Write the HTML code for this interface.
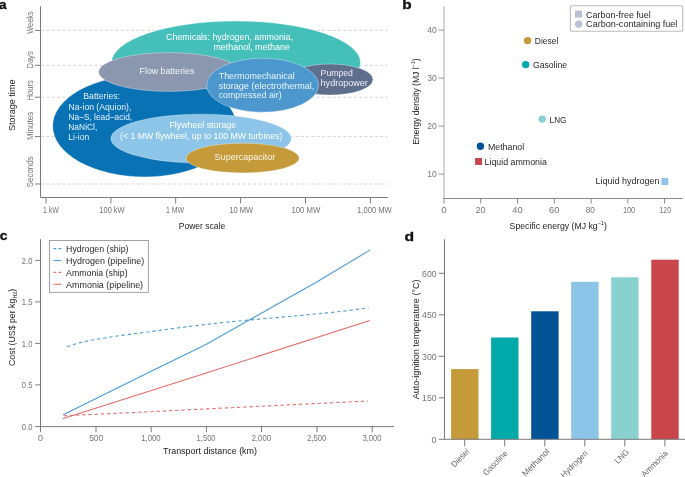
<!DOCTYPE html>
<html lang="en"><head><meta charset="utf-8"><title>Energy storage and fuels figure</title>
<style>html,body{margin:0;padding:0;background:#fff}svg{display:block}text{font-family:"Liberation Sans",sans-serif}</style>
</head><body>
<svg width="685" height="477" viewBox="0 0 685 477">
<rect width="685" height="477" fill="#fff"/>
<g id="panel-a">
<text x="-0.9" y="9.0" font-size="12.2" fill="#111" textLength="7.5" lengthAdjust="spacingAndGlyphs" font-weight="bold" stroke="#111" stroke-width="0.35">a</text>
<line x1="41" y1="30.4" x2="387.7" y2="30.4" stroke="#c9c9c9" stroke-width="0.8" stroke-dasharray="3.2 2.1"/>
<line x1="41" y1="65.3" x2="387.7" y2="65.3" stroke="#c9c9c9" stroke-width="0.8" stroke-dasharray="3.2 2.1"/>
<line x1="41" y1="97.2" x2="387.7" y2="97.2" stroke="#c9c9c9" stroke-width="0.8" stroke-dasharray="3.2 2.1"/>
<line x1="41" y1="136.6" x2="387.7" y2="136.6" stroke="#c9c9c9" stroke-width="0.8" stroke-dasharray="3.2 2.1"/>
<line x1="41" y1="184.0" x2="387.7" y2="184.0" stroke="#c9c9c9" stroke-width="0.8" stroke-dasharray="3.2 2.1"/>
<ellipse cx="236" cy="62.6" rx="124.4" ry="41.6" fill="#45bfba" stroke="#fff" stroke-opacity="0.7" stroke-width="0.5"/>
<ellipse cx="144.5" cy="126" rx="91.8" ry="50.9" fill="#0872b5" stroke="#fff" stroke-opacity="0.7" stroke-width="0.5"/>
<ellipse cx="169" cy="72" rx="70.4" ry="19.4" fill="#8b97af" stroke="#fff" stroke-opacity="0.7" stroke-width="0.5"/>
<ellipse cx="330" cy="79.5" rx="43" ry="15.5" fill="#5e6e8d" stroke="#fff" stroke-opacity="0.7" stroke-width="0.5"/>
<ellipse cx="262.5" cy="85.2" rx="56" ry="27" fill="#4c97ce" stroke="#fff" stroke-opacity="0.7" stroke-width="0.5"/>
<ellipse cx="201.1" cy="138.6" rx="90.2" ry="24.4" fill="#8cc5e8" stroke="#fff" stroke-opacity="0.7" stroke-width="0.5"/>
<ellipse cx="242.6" cy="158.1" rx="56.6" ry="14.9" fill="#c49a3a" stroke="#fff" stroke-opacity="0.7" stroke-width="0.5"/>
<path d="M40.5 6.2V197.5H387.7" fill="none" stroke="#7a7a7a" stroke-width="1"/>
<line x1="35" y1="30.4" x2="40.5" y2="30.4" stroke="#7a7a7a" stroke-width="1"/>
<text transform="translate(32.6 33.7) rotate(-90)" font-size="8.5" fill="#757575" textLength="22.3" lengthAdjust="spacingAndGlyphs">Weeks</text>
<line x1="35" y1="65.3" x2="40.5" y2="65.3" stroke="#7a7a7a" stroke-width="1"/>
<text transform="translate(32.6 68.6) rotate(-90)" font-size="8.5" fill="#757575" textLength="17.3" lengthAdjust="spacingAndGlyphs">Days</text>
<line x1="35" y1="97.2" x2="40.5" y2="97.2" stroke="#7a7a7a" stroke-width="1"/>
<text transform="translate(32.6 100.5) rotate(-90)" font-size="8.5" fill="#757575" textLength="20.3" lengthAdjust="spacingAndGlyphs">Hours</text>
<line x1="35" y1="136.6" x2="40.5" y2="136.6" stroke="#7a7a7a" stroke-width="1"/>
<text transform="translate(32.6 139.9) rotate(-90)" font-size="8.5" fill="#757575" textLength="28.1" lengthAdjust="spacingAndGlyphs">Minutes</text>
<line x1="35" y1="184.0" x2="40.5" y2="184.0" stroke="#7a7a7a" stroke-width="1"/>
<text transform="translate(32.6 187.3) rotate(-90)" font-size="8.5" fill="#757575" textLength="31.0" lengthAdjust="spacingAndGlyphs">Seconds</text>
<text transform="translate(15.0 131.0) rotate(-90)" font-size="9" fill="#222" textLength="51.5" lengthAdjust="spacingAndGlyphs">Storage time</text>
<line x1="46.0" y1="197.5" x2="46.0" y2="203.5" stroke="#7a7a7a" stroke-width="1"/>
<text x="42.9" y="212.6" font-size="8.5" fill="#757575" textLength="16.0" lengthAdjust="spacingAndGlyphs">1 kW</text>
<line x1="110.9" y1="197.5" x2="110.9" y2="203.5" stroke="#7a7a7a" stroke-width="1"/>
<text x="99.3" y="212.6" font-size="8.5" fill="#757575" textLength="25.4" lengthAdjust="spacingAndGlyphs">100 kW</text>
<line x1="175.7" y1="197.5" x2="175.7" y2="203.5" stroke="#7a7a7a" stroke-width="1"/>
<text x="165.9" y="212.6" font-size="8.5" fill="#757575" textLength="18.2" lengthAdjust="spacingAndGlyphs">1 MW</text>
<line x1="240.6" y1="197.5" x2="240.6" y2="203.5" stroke="#7a7a7a" stroke-width="1"/>
<text x="229.2" y="212.6" font-size="8.5" fill="#757575" textLength="23.9" lengthAdjust="spacingAndGlyphs">10 MW</text>
<line x1="305.5" y1="197.5" x2="305.5" y2="203.5" stroke="#7a7a7a" stroke-width="1"/>
<text x="291.4" y="212.6" font-size="8.5" fill="#757575" textLength="28.9" lengthAdjust="spacingAndGlyphs">100 MW</text>
<line x1="370.4" y1="197.5" x2="370.4" y2="203.5" stroke="#7a7a7a" stroke-width="1"/>
<text x="357.1" y="212.6" font-size="8.5" fill="#757575" textLength="34.7" lengthAdjust="spacingAndGlyphs">1,000 MW</text>
<text x="178.8" y="228.5" font-size="9" fill="#222" textLength="46.4" lengthAdjust="spacingAndGlyphs">Power scale</text>
<text x="166.1" y="40.1" font-size="9" fill="#ffffff" textLength="127.1" lengthAdjust="spacingAndGlyphs">Chemicals: hydrogen, ammonia,</text>
<text x="213.4" y="50.0" font-size="9" fill="#ffffff" textLength="76.5" lengthAdjust="spacingAndGlyphs">methanol, methane</text>
<text x="139.6" y="74.2" font-size="9" fill="#f3f4f7" textLength="54.7" lengthAdjust="spacingAndGlyphs">Flow batteries</text>
<text x="218.7" y="79.0" font-size="9" fill="#eaf3fa" textLength="76.0" lengthAdjust="spacingAndGlyphs">Thermomechanical</text>
<text x="218.7" y="88.8" font-size="9" fill="#eaf3fa" textLength="95.7" lengthAdjust="spacingAndGlyphs">storage (electrothermal,</text>
<text x="218.7" y="98.4" font-size="9" fill="#eaf3fa" textLength="62.9" lengthAdjust="spacingAndGlyphs">compressed air)</text>
<text x="320.6" y="75.8" font-size="9" fill="#eef0f4" textLength="32.3" lengthAdjust="spacingAndGlyphs">Pumped</text>
<text x="320.6" y="86.2" font-size="9" fill="#eef0f4" textLength="47.2" lengthAdjust="spacingAndGlyphs">hydropower</text>
<text x="83.3" y="99.4" font-size="9" fill="#e6f1f8" textLength="36.7" lengthAdjust="spacingAndGlyphs">Batteries:</text>
<text x="68.6" y="109.9" font-size="9" fill="#e6f1f8" textLength="62.7" lengthAdjust="spacingAndGlyphs">Na-ion (Aquion),</text>
<text x="68.6" y="119.9" font-size="9" fill="#e6f1f8" textLength="63.6" lengthAdjust="spacingAndGlyphs">Na–S, lead–acid,</text>
<text x="68.3" y="130.0" font-size="9" fill="#e6f1f8" textLength="29.0" lengthAdjust="spacingAndGlyphs">NaNiCl,</text>
<text x="68.3" y="139.6" font-size="9" fill="#e6f1f8" textLength="20.9" lengthAdjust="spacingAndGlyphs">Li-ion</text>
<text x="169.4" y="128.1" font-size="9" fill="#ffffff" textLength="66.8" lengthAdjust="spacingAndGlyphs">Flywheel storage</text>
<text x="120.0" y="139.0" font-size="9" fill="#ffffff" textLength="162.3" lengthAdjust="spacingAndGlyphs">(&lt; 1 MW flywheel, up to 100 MW turbines)</text>
<text x="214.6" y="160.0" font-size="9" fill="#fbf6ea" textLength="60.7" lengthAdjust="spacingAndGlyphs">Supercapacitor</text>
</g>
<g id="panel-b">
<text x="402.3" y="9.0" font-size="13" fill="#111" textLength="9.4" lengthAdjust="spacingAndGlyphs" font-weight="bold" stroke="#111" stroke-width="0.3">b</text>
<line x1="444" y1="6.2" x2="444" y2="198.5" stroke="#bdbdbd" stroke-width="1.3"/>
<line x1="443.4" y1="198.5" x2="683" y2="198.5" stroke="#8a8a8a" stroke-width="1"/>
<line x1="438.5" y1="30.1" x2="444" y2="30.1" stroke="#9a9a9a" stroke-width="1"/>
<text x="427.2" y="33.1" font-size="8.5" fill="#757575" textLength="9.5" lengthAdjust="spacingAndGlyphs">40</text>
<line x1="438.5" y1="78.1" x2="444" y2="78.1" stroke="#9a9a9a" stroke-width="1"/>
<text x="427.2" y="81.1" font-size="8.5" fill="#757575" textLength="9.5" lengthAdjust="spacingAndGlyphs">30</text>
<line x1="438.5" y1="126.1" x2="444" y2="126.1" stroke="#9a9a9a" stroke-width="1"/>
<text x="427.2" y="129.1" font-size="8.5" fill="#757575" textLength="9.5" lengthAdjust="spacingAndGlyphs">20</text>
<line x1="438.5" y1="174.1" x2="444" y2="174.1" stroke="#9a9a9a" stroke-width="1"/>
<text x="427.2" y="177.1" font-size="8.5" fill="#757575" textLength="9.5" lengthAdjust="spacingAndGlyphs">10</text>
<text transform="translate(418.8 144.7) rotate(-90)" font-size="9" fill="#222" textLength="86.2" lengthAdjust="spacingAndGlyphs">Energy density (MJ l<tspan font-size="5.6" dy="-3.4">−1</tspan><tspan dy="3.4">)</tspan></text>
<line x1="444.0" y1="198.5" x2="444.0" y2="203.6" stroke="#8a8a8a" stroke-width="1"/>
<text x="441.3" y="212.6" font-size="8.5" fill="#757575" textLength="5.4" lengthAdjust="spacingAndGlyphs">0</text>
<line x1="480.7" y1="198.5" x2="480.7" y2="203.6" stroke="#8a8a8a" stroke-width="1"/>
<text x="475.5" y="212.6" font-size="8.5" fill="#757575" textLength="10.1" lengthAdjust="spacingAndGlyphs">20</text>
<line x1="517.5" y1="198.5" x2="517.5" y2="203.6" stroke="#8a8a8a" stroke-width="1"/>
<text x="512.3" y="212.6" font-size="8.5" fill="#757575" textLength="10.3" lengthAdjust="spacingAndGlyphs">40</text>
<line x1="554.3" y1="198.5" x2="554.3" y2="203.6" stroke="#8a8a8a" stroke-width="1"/>
<text x="549.1" y="212.6" font-size="8.5" fill="#757575" textLength="10.3" lengthAdjust="spacingAndGlyphs">60</text>
<line x1="591.1" y1="198.5" x2="591.1" y2="203.6" stroke="#8a8a8a" stroke-width="1"/>
<text x="585.7" y="212.6" font-size="8.5" fill="#757575" textLength="9.3" lengthAdjust="spacingAndGlyphs">80</text>
<line x1="627.9" y1="198.5" x2="627.9" y2="203.6" stroke="#8a8a8a" stroke-width="1"/>
<text x="622.9" y="212.6" font-size="8.5" fill="#757575" textLength="12.3" lengthAdjust="spacingAndGlyphs">100</text>
<line x1="664.5" y1="198.5" x2="664.5" y2="203.6" stroke="#8a8a8a" stroke-width="1"/>
<text x="659.6" y="212.6" font-size="8.5" fill="#757575" textLength="11.3" lengthAdjust="spacingAndGlyphs">120</text>
<text x="509.6" y="228.7" font-size="9" fill="#222" textLength="97.2" lengthAdjust="spacingAndGlyphs">Specific energy (MJ kg<tspan font-size="5.6" dy="-3.4">−1</tspan><tspan dy="3.4">)</tspan></text>
<rect x="570.4" y="5.7" width="112.3" height="25.6" rx="1.2" fill="#fff" stroke="#bdbdbd" stroke-width="1.1"/>
<rect x="575" y="10.6" width="7" height="7" fill="#b9c0d2"/>
<circle cx="578.6" cy="24.1" r="3.7" fill="#b9c0d2"/>
<text x="586.1" y="17.5" font-size="9" fill="#2a2a2a" textLength="64.7" lengthAdjust="spacingAndGlyphs">Carbon-free fuel</text>
<text x="586.1" y="27.0" font-size="9" fill="#2a2a2a" textLength="91.3" lengthAdjust="spacingAndGlyphs">Carbon-containing fuel</text>
<circle cx="527.6" cy="40.6" r="3.7" fill="#c49a3a"/>
<text x="534.8" y="44.0" font-size="9" fill="#2a2a2a" textLength="23.5" lengthAdjust="spacingAndGlyphs">Diesel</text>
<circle cx="525.7" cy="64.6" r="3.7" fill="#00a9a9"/>
<text x="532.9" y="67.5" font-size="9" fill="#2a2a2a" textLength="34.2" lengthAdjust="spacingAndGlyphs">Gasoline</text>
<circle cx="542.2" cy="119.1" r="3.7" fill="#88d1cf"/>
<text x="549.6" y="122.7" font-size="9" fill="#2a2a2a" textLength="16.8" lengthAdjust="spacingAndGlyphs">LNG</text>
<circle cx="480.4" cy="146.3" r="3.7" fill="#025396"/>
<text x="487.9" y="149.6" font-size="9" fill="#2a2a2a" textLength="36.3" lengthAdjust="spacingAndGlyphs">Methanol</text>
<rect x="475.1" y="158" width="6.9" height="6.9" fill="#c8464a"/>
<text x="484.5" y="164.6" font-size="9" fill="#2a2a2a" textLength="62.4" lengthAdjust="spacingAndGlyphs">Liquid ammonia</text>
<rect x="661.4" y="178.1" width="6.9" height="6.9" fill="#8cc5e8"/>
<text x="595.6" y="184.1" font-size="9" fill="#2a2a2a" textLength="64.0" lengthAdjust="spacingAndGlyphs">Liquid hydrogen</text>
</g>
<g id="panel-c">
<text x="-0.3" y="240.3" font-size="13" fill="#111" textLength="7.7" lengthAdjust="spacingAndGlyphs" font-weight="bold" stroke="#111" stroke-width="0.35">c</text>
<path d="M40.5 239.2V426.6H394.2" fill="none" stroke="#7a7a7a" stroke-width="1"/>
<line x1="35.2" y1="260.4" x2="40.5" y2="260.4" stroke="#7a7a7a" stroke-width="1"/>
<text x="21.8" y="263.9" font-size="8.5" fill="#757575" textLength="10.6" lengthAdjust="spacingAndGlyphs">2.0</text>
<line x1="35.2" y1="301.9" x2="40.5" y2="301.9" stroke="#7a7a7a" stroke-width="1"/>
<text x="21.8" y="305.4" font-size="8.5" fill="#757575" textLength="10.6" lengthAdjust="spacingAndGlyphs">1.5</text>
<line x1="35.2" y1="343.4" x2="40.5" y2="343.4" stroke="#7a7a7a" stroke-width="1"/>
<text x="21.8" y="346.9" font-size="8.5" fill="#757575" textLength="10.6" lengthAdjust="spacingAndGlyphs">1.0</text>
<line x1="35.2" y1="384.9" x2="40.5" y2="384.9" stroke="#7a7a7a" stroke-width="1"/>
<text x="21.8" y="388.4" font-size="8.5" fill="#757575" textLength="10.6" lengthAdjust="spacingAndGlyphs">0.5</text>
<line x1="35.2" y1="426.6" x2="40.5" y2="426.6" stroke="#7a7a7a" stroke-width="1"/>
<text x="21.8" y="430.1" font-size="8.5" fill="#757575" textLength="10.6" lengthAdjust="spacingAndGlyphs">0.0</text>
<line x1="40.5" y1="426.6" x2="40.5" y2="432.2" stroke="#7a7a7a" stroke-width="1"/>
<text x="38.0" y="440.5" font-size="8.5" fill="#757575" textLength="5.0" lengthAdjust="spacingAndGlyphs">0</text>
<line x1="96.0" y1="426.6" x2="96.0" y2="432.2" stroke="#7a7a7a" stroke-width="1"/>
<text x="89.2" y="440.5" font-size="8.5" fill="#757575" textLength="14.0" lengthAdjust="spacingAndGlyphs">500</text>
<line x1="151.2" y1="426.6" x2="151.2" y2="432.2" stroke="#7a7a7a" stroke-width="1"/>
<text x="141.2" y="440.5" font-size="8.5" fill="#757575" textLength="19.5" lengthAdjust="spacingAndGlyphs">1,000</text>
<line x1="206.4" y1="426.6" x2="206.4" y2="432.2" stroke="#7a7a7a" stroke-width="1"/>
<text x="196.6" y="440.5" font-size="8.5" fill="#757575" textLength="19.0" lengthAdjust="spacingAndGlyphs">1,500</text>
<line x1="261.5" y1="426.6" x2="261.5" y2="432.2" stroke="#7a7a7a" stroke-width="1"/>
<text x="251.7" y="440.5" font-size="8.5" fill="#757575" textLength="19.3" lengthAdjust="spacingAndGlyphs">2,000</text>
<line x1="317.0" y1="426.6" x2="317.0" y2="432.2" stroke="#7a7a7a" stroke-width="1"/>
<text x="307.2" y="440.5" font-size="8.5" fill="#757575" textLength="19.2" lengthAdjust="spacingAndGlyphs">2,500</text>
<line x1="372.2" y1="426.6" x2="372.2" y2="432.2" stroke="#7a7a7a" stroke-width="1"/>
<text x="362.4" y="440.5" font-size="8.5" fill="#757575" textLength="19.2" lengthAdjust="spacingAndGlyphs">3,000</text>
<text x="163.1" y="453.8" font-size="9" fill="#222" textLength="93.9" lengthAdjust="spacingAndGlyphs">Transport distance (km)</text>
<text transform="translate(15.1 366) rotate(-90)" font-size="9" fill="#222" textLength="77.2" lengthAdjust="spacingAndGlyphs">Cost (US$ per kg<tspan font-size="5.5" dy="1.8">H2</tspan><tspan dy="-1.8">)</tspan></text>
<polyline points="67,346.7 80,342.6 93.4,339.8 120,335.6 146,332.2 175,328.3 204.4,324.6 233,321.5 262.8,318.8 292,316.2 321.2,313.5 345,311 368.5,307.8" fill="none" stroke="#4b9bd8" stroke-width="1.1" stroke-dasharray="3.3 2.9"/>
<polyline points="63.2,414.8 96.1,398.6 151.2,371.3 206.4,344.3 261.3,313.2 317.1,281.8 370.2,249.9" fill="none" stroke="#4b9bd8" stroke-width="1.1"/>
<polyline points="63.7,415.8 140,412.2 200,409.2 280,405.3 368,401" fill="none" stroke="#e36d68" stroke-width="1.1" stroke-dasharray="3.3 2.9"/>
<polyline points="62.7,418.7 200,375 369.9,320.5" fill="none" stroke="#e36d68" stroke-width="1.1"/>
<rect x="49.5" y="240.4" width="98.8" height="51.9" fill="#fff" stroke="#8a8a8a" stroke-width="0.8"/>
<line x1="53.6" y1="248.6" x2="61.4" y2="248.6" stroke="#4b9bd8" stroke-width="1.1" stroke-dasharray="2.8 2.2"/>
<text x="66.1" y="251.9" font-size="9" fill="#2a2a2a" textLength="62.4" lengthAdjust="spacingAndGlyphs">Hydrogen (ship)</text>
<line x1="53.6" y1="260.5" x2="61.4" y2="260.5" stroke="#4b9bd8" stroke-width="1.1"/>
<text x="66.1" y="263.8" font-size="9" fill="#2a2a2a" textLength="78.1" lengthAdjust="spacingAndGlyphs">Hydrogen (pipeline)</text>
<line x1="53.6" y1="272.4" x2="61.4" y2="272.4" stroke="#e36d68" stroke-width="1.1" stroke-dasharray="2.8 2.2"/>
<text x="66.1" y="275.7" font-size="9" fill="#2a2a2a" textLength="61.5" lengthAdjust="spacingAndGlyphs">Ammonia (ship)</text>
<line x1="53.6" y1="284.3" x2="61.4" y2="284.3" stroke="#e36d68" stroke-width="1.1"/>
<text x="66.1" y="287.6" font-size="9" fill="#2a2a2a" textLength="77.0" lengthAdjust="spacingAndGlyphs">Ammonia (pipeline)</text>
</g>
<g id="panel-d">
<text x="404.6" y="240.5" font-size="13.4" fill="#111" textLength="9.6" lengthAdjust="spacingAndGlyphs" font-weight="bold" stroke="#111" stroke-width="0.3">d</text>
<rect x="451.1" y="369.1" width="27.4" height="70.2" fill="#c49a3a"/>
<rect x="491.1" y="337.5" width="27.4" height="101.8" fill="#00a9a9"/>
<rect x="531.2" y="311.3" width="27.4" height="128.0" fill="#025396"/>
<rect x="571.2" y="281.8" width="27.4" height="157.5" fill="#8cc5e8"/>
<rect x="611.2" y="277.3" width="27.4" height="162.0" fill="#88d1cf"/>
<rect x="651.3" y="259.7" width="27.4" height="179.6" fill="#c8464a"/>
<path d="M444.5 239.2V439.3H685" fill="none" stroke="#7a7a7a" stroke-width="1"/>
<line x1="438.9" y1="273.3" x2="444.5" y2="273.3" stroke="#7a7a7a" stroke-width="1"/>
<text x="422.0" y="276.8" font-size="8.5" fill="#757575" textLength="14.7" lengthAdjust="spacingAndGlyphs">600</text>
<line x1="438.9" y1="314.8" x2="444.5" y2="314.8" stroke="#7a7a7a" stroke-width="1"/>
<text x="422.0" y="318.3" font-size="8.5" fill="#757575" textLength="14.7" lengthAdjust="spacingAndGlyphs">450</text>
<line x1="438.9" y1="356.3" x2="444.5" y2="356.3" stroke="#7a7a7a" stroke-width="1"/>
<text x="422.0" y="359.8" font-size="8.5" fill="#757575" textLength="14.7" lengthAdjust="spacingAndGlyphs">300</text>
<line x1="438.9" y1="397.8" x2="444.5" y2="397.8" stroke="#7a7a7a" stroke-width="1"/>
<text x="422.0" y="401.3" font-size="8.5" fill="#757575" textLength="14.7" lengthAdjust="spacingAndGlyphs">150</text>
<line x1="438.9" y1="439.3" x2="444.5" y2="439.3" stroke="#7a7a7a" stroke-width="1"/>
<text x="431.6" y="442.8" font-size="8.5" fill="#757575" textLength="5.0" lengthAdjust="spacingAndGlyphs">0</text>
<line x1="464.7" y1="439.3" x2="464.7" y2="446.5" stroke="#7a7a7a" stroke-width="1"/>
<text transform="translate(469.9 452.2) rotate(-45)" text-anchor="end" font-size="8.5" fill="#666" textLength="21.9" lengthAdjust="spacingAndGlyphs">Diesel</text>
<line x1="504.7" y1="439.3" x2="504.7" y2="446.5" stroke="#7a7a7a" stroke-width="1"/>
<text transform="translate(508.3 453.8) rotate(-45)" text-anchor="end" font-size="8.5" fill="#666" textLength="31.3" lengthAdjust="spacingAndGlyphs">Gasoline</text>
<line x1="544.8" y1="439.3" x2="544.8" y2="446.5" stroke="#7a7a7a" stroke-width="1"/>
<text transform="translate(550.0 452.2) rotate(-45)" text-anchor="end" font-size="8.5" fill="#666" textLength="34.6" lengthAdjust="spacingAndGlyphs">Methanol</text>
<line x1="584.8" y1="439.3" x2="584.8" y2="446.5" stroke="#7a7a7a" stroke-width="1"/>
<text transform="translate(588.3 453.9) rotate(-45)" text-anchor="end" font-size="8.5" fill="#666" textLength="34.4" lengthAdjust="spacingAndGlyphs">Hydrogen</text>
<line x1="624.8" y1="439.3" x2="624.8" y2="446.5" stroke="#7a7a7a" stroke-width="1"/>
<text transform="translate(629.5 452.7) rotate(-45)" text-anchor="end" font-size="8.5" fill="#666" textLength="16.2" lengthAdjust="spacingAndGlyphs">LNG</text>
<line x1="664.9" y1="439.3" x2="664.9" y2="446.5" stroke="#7a7a7a" stroke-width="1"/>
<text transform="translate(668.4 453.9) rotate(-45)" text-anchor="end" font-size="8.5" fill="#666" textLength="33.4" lengthAdjust="spacingAndGlyphs">Ammonia</text>
<text transform="translate(418.5 399.3) rotate(-90)" font-size="9" fill="#222" textLength="119.8" lengthAdjust="spacingAndGlyphs">Auto-ignition temperature (°C)</text>
</g>
</svg>
</body></html>
